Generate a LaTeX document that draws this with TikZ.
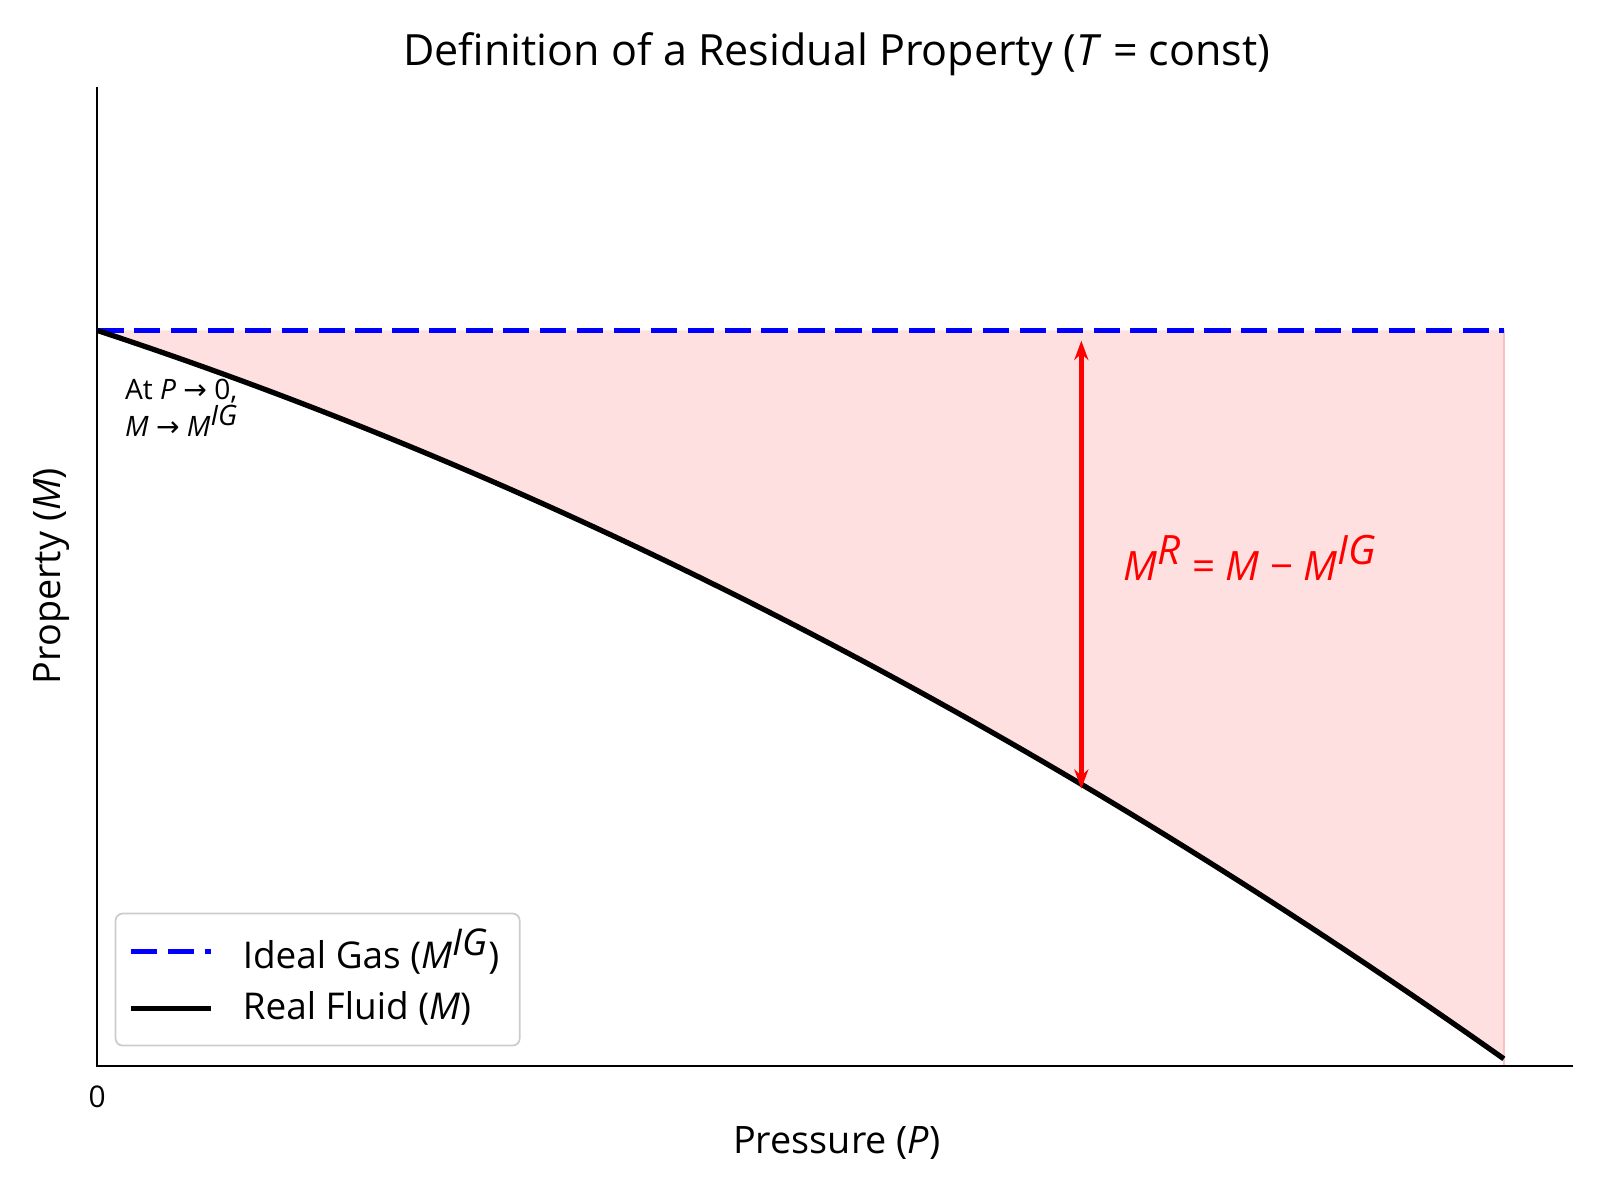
\documentclass[tikz,border=0pt]{standalone}
\usepackage{fontspec}
\setmainfont{Open Sans}
\newfontfamily\symfont{DejaVu Sans}
\usetikzlibrary{arrows.meta}
\begin{document}
\begin{tikzpicture}[x=0.02046cm,y=-0.02046cm,
  lbl/.style={inner sep=0pt,font=\fontsize{21.5}{25}\selectfont},
  ideal/.style={blue,line width=3pt,dash pattern=on 15pt off 6pt},
  real/.style={black,line width=3pt}]
\useasboundingbox (0,0) rectangle (1564,1173);
\fill[red!12] plot[domain=0:1375,samples=80] ({95+\x},{323+0.329*\x+1.415e-4*\x*\x}) -- (1470,323) -- cycle;
\draw[red!25,line width=0.8pt] (1470,323) -- (1470,1042);
\draw[line width=1pt] (95,85) -- (95,1042) -- (1538,1042);
\draw[ideal] (95,323) -- (1470,323);
\draw[real] plot[domain=0:1375,samples=80] ({95+\x},{323+0.329*\x+1.415e-4*\x*\x});
\coordinate (top) at (1057,333);
\coordinate (bot) at (1057,771);
\draw[red,line width=2.6pt,{Stealth[length=11pt,width=8pt]}-{Stealth[length=11pt,width=8pt]}] (top) -- (bot);
\node[red,anchor=west,lbl,font=\fontsize{23}{26}\selectfont] (mr) at (1098,545) {\textit{M}$^{\textit{R}}$ = \textit{M} − \textit{M}$^{\textit{IG}}$};
\node[anchor=north west,align=left,inner sep=0pt,font=\fontsize{16}{19}\selectfont] (note) at (122,370) {At \textit{P} {\symfont →} 0,\\\textit{M} {\symfont →} \textit{M}$^{\textit{IG}}$};
\node[lbl,font=\fontsize{24.5}{28}\selectfont] (title) at (818,53) {Definition of a Residual Property (\textit{T} = const)};
\node[lbl] (xl) at (818,1117) {Pressure (\textit{P})};
\node[lbl,rotate=90] (yl) at (50,563) {Property (\textit{M})};
\node[lbl,font=\fontsize{17}{20}\selectfont] (zero) at (95,1072) {0};
\draw[black!20,line width=1pt,rounded corners=4pt,fill=white] (113,893) rectangle (508,1022);
\draw[ideal] (128,930) -- (206,930);
\draw[real] (128,986) -- (206,986);
\node[lbl,anchor=west,font=\fontsize{21}{25}\selectfont] (l1) at (237,930) {Ideal Gas (\textit{M}$^{\textit{IG}}$)};
\node[lbl,anchor=west,font=\fontsize{21}{25}\selectfont] (l2) at (237,986) {Real Fluid (\textit{M})};
\end{tikzpicture}
\end{document}
